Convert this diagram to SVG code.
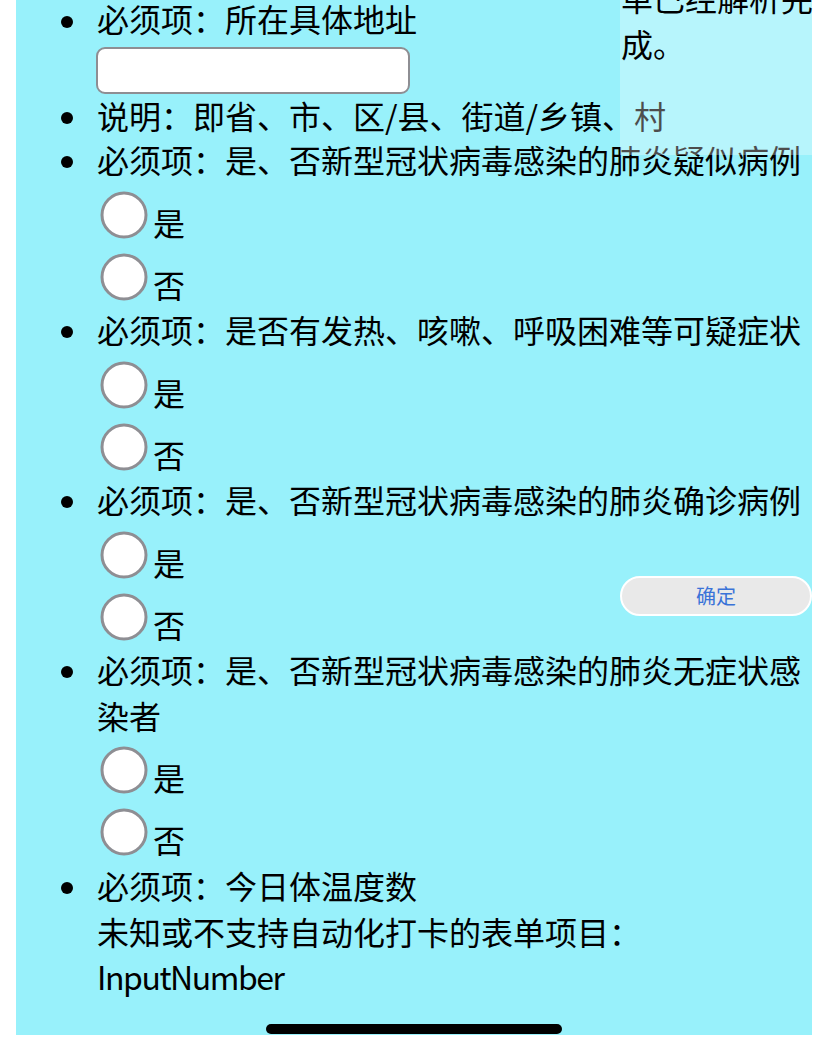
<svg xmlns="http://www.w3.org/2000/svg" width="828" height="1048" viewBox="0 0 828 1048">
<style>
text{font-family:"Noto Sans CJK SC","Liberation Sans",sans-serif;font-size:32px;fill:#000}
.b{fill:#000}
.r{fill:#fff;stroke:#8e8e93;stroke-width:3}
</style>
<rect width="828" height="1048" fill="#fff"/>
<rect x="16" y="0" width="796" height="1035" fill="#98f1fb"/>
<g id="q1">
<circle class="b" cx="67" cy="22" r="6"/><text x="97" y="32">必须项：所在具体地址</text>
<rect x="97" y="48" width="312" height="45" rx="8" fill="#fff" stroke="#8e8e93" stroke-width="2"/>
<circle class="b" cx="67" cy="118" r="6"/><text x="97" y="129">说明：即省、市、区/县、街道/乡镇、村</text>
</g>
<g id="q2">
<circle class="b" cx="67" cy="162" r="6"/><text x="97" y="173">必须项：是、否新型冠状病毒感染的肺炎疑似病例</text>
<circle class="r" cx="124" cy="215" r="22"/><text x="153" y="236">是</text>
<circle class="r" cx="124" cy="277" r="22"/><text x="153" y="298">否</text>
</g>
<g id="q3">
<circle class="b" cx="67" cy="332" r="6"/><text x="97" y="343">必须项：是否有发热、咳嗽、呼吸困难等可疑症状</text>
<circle class="r" cx="124" cy="385" r="22"/><text x="153" y="406">是</text>
<circle class="r" cx="124" cy="447" r="22"/><text x="153" y="468">否</text>
</g>
<g id="q4">
<circle class="b" cx="67" cy="502" r="6"/><text x="97" y="513">必须项：是、否新型冠状病毒感染的肺炎确诊病例</text>
<circle class="r" cx="124" cy="555" r="22"/><text x="153" y="576">是</text>
<circle class="r" cx="124" cy="617" r="22"/><text x="153" y="638">否</text>
</g>
<g id="q5">
<circle class="b" cx="67" cy="672" r="6"/><text x="97" y="683">必须项：是、否新型冠状病毒感染的肺炎无症状感</text>
<text x="97" y="729">染者</text>
<circle class="r" cx="124" cy="770" r="22"/><text x="153" y="791">是</text>
<circle class="r" cx="124" cy="832" r="22"/><text x="153" y="853">否</text>
</g>
<g id="q6">
<circle class="b" cx="67" cy="888" r="6"/><text x="97" y="899">必须项：今日体温度数</text>
<text x="97" y="945">未知或不支持自动化打卡的表单项目：</text>
<text x="97" y="990" textLength="188">InputNumber</text>
</g>
<g id="overlay">
<rect x="620" y="0" width="192" height="155" fill="#fff" fill-opacity="0.3"/>
<text x="621" y="11">单已经解析完</text>
<text x="621" y="57">成。</text>
</g>
<g id="button">
<rect x="621" y="577" width="190" height="38" rx="19" fill="#e9e9e9" stroke="#fff" stroke-width="2"/>
<text x="716" y="604" style="font-size:20px;fill:#3a73d8" text-anchor="middle">确定</text>
</g>
<rect x="266" y="1024" width="296" height="10" rx="5" fill="#000"/>
</svg>
